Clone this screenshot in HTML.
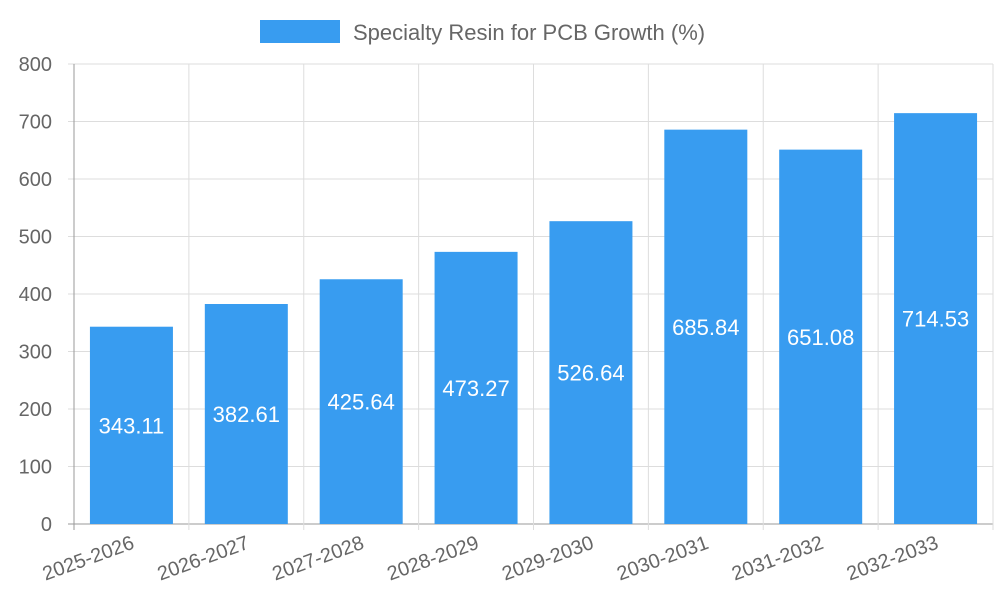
<!DOCTYPE html>
<html><head><meta charset="utf-8"><style>
body{margin:0;background:#fff;}
svg{display:block;font-family:"Liberation Sans",sans-serif;}
</style></head><body>
<svg id="chart" width="1000" height="600">
<g>
<rect x="260" y="20" width="80" height="23" fill="#389cf0"></rect>
<text x="353" y="40" font-size="22" fill="#666">Specialty Resin for PCB Growth (%)</text>
</g>
<g id="grid"></g><g id="bars"></g><g id="axes"></g>
</svg>
<script>
const categories=["2025-2026","2026-2027","2027-2028","2028-2029","2029-2030","2030-2031","2031-2032","2032-2033"];
const values=[343.11,382.61,425.64,473.27,526.64,685.84,651.08,714.53];
const yTicks=[0,100,200,300,400,500,600,700,800];
const NS="http://www.w3.org/2000/svg";
const L=74,R=993,T=64,B=524,yMax=800;
const bw=(R-L)/categories.length;
const y=v=>B-(v/yMax)*(B-T);
const xc=i=>L+bw*(i+0.5);
function mk(tag,attrs,parent,text){const e=document.createElementNS(NS,tag);for(const k in attrs)e.setAttribute(k,attrs[k]);if(text!==undefined)e.textContent=text;parent.appendChild(e);return e;}
const grid=document.getElementById('grid'),bars=document.getElementById('bars'),axes=document.getElementById('axes');
yTicks.forEach(t=>{
 const l=mk('line',{x1:68,x2:R,y1:y(t),y2:y(t),stroke:t===0?'#999':'#ddd','stroke-width':1},grid);
 
 
 const tx=mk('text',{x:52,y:y(t)+7,'text-anchor':'end','font-size':20,fill:'#666'},axes,String(t));
 
 
});
for(let i=0;i<=categories.length;i++){
 const gx=L+bw*i;
 const l=mk('line',{x1:gx,x2:gx,y1:T,y2:B+6,stroke:i===0?'#999':'#ddd','stroke-width':1},grid);
 
 
}
categories.forEach((c,i)=>{
 const v=values[i],w=83;
 const r=mk('rect',{x:xc(i)-w/2,y:y(v),width:w,height:B-y(v),fill:'#389cf0'},bars);
 
 
 const lb=mk('text',{x:xc(i),y:(y(v)+B)/2+8,'text-anchor':'middle','font-size':22,fill:'#fff'},bars,v.toFixed(2));
 
 
 const xl=mk('text',{x:xc(i)+4,y:B+24,'text-anchor':'end','font-size':20,fill:'#666',transform:`rotate(-20 ${xc(i)+4} ${B+24})`},axes,c);
 
 
});
</script>
</body></html>
